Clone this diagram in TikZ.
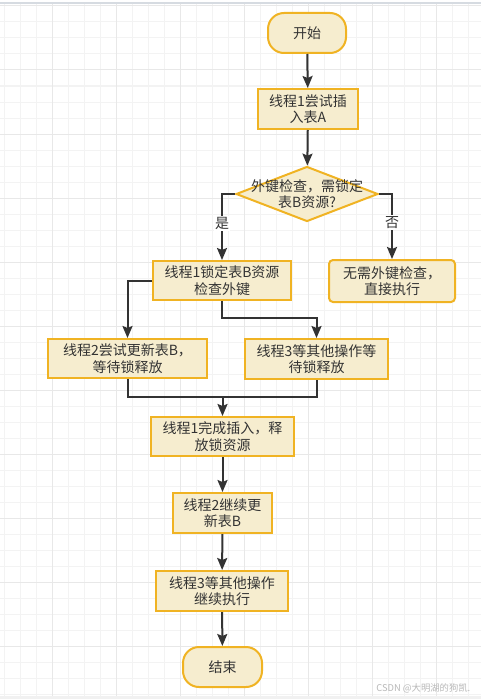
\documentclass[tikz,border=0pt]{standalone}
\usepackage{fontspec}
\usetikzlibrary{arrows.meta, shapes.geometric}
\newfontfamily\cjk{Noto Sans CJK SC}
\definecolor{boxfill}{HTML}{F6EDCF}
\definecolor{boxline}{HTML}{F0B323}
\definecolor{ink}{HTML}{333333}
\definecolor{gridminor}{HTML}{F3F3F3}
\definecolor{gridmajor}{HTML}{E8E8E8}
\definecolor{frameline}{HTML}{D6DBE1}

\begin{document}
\begin{tikzpicture}[x=0.75pt, y=-0.75pt,
  every node/.style={font=\cjk\fontsize{10.5}{12.5}\selectfont, text=ink, align=center},
  process/.style={draw=boxline, fill=boxfill, line width=1.5pt, inner sep=0pt},
  terminal/.style={process, rounded corners=12pt},
  decision/.style={process, diamond, minimum width=106.5pt, minimum height=41.25pt},
  flow/.style={draw=ink, line width=1.5pt, -{Stealth[length=9pt, width=7.5pt, inset=1.5pt]}},
  link/.style={draw=ink, line width=1.5pt},
  answer/.style={fill=white, inner sep=1pt}]
\useasboundingbox (0,0) rectangle (481,699);
% Background grid
\fill[white] (0,0) rectangle (481,699);
\foreach \x in {4,20,...,480} \draw[gridminor, line width=0.75pt] (\x,4) -- (\x,696);
\foreach \y in {6,22,...,695} \draw[gridminor, line width=0.75pt] (0,\y) -- (481,\y);
\foreach \x in {52,116,...,480} \draw[gridmajor, line width=0.75pt] (\x,4) -- (\x,696);
\foreach \y in {6,70,...,695} \draw[gridmajor, line width=0.75pt] (0,\y) -- (481,\y);
\draw[frameline, line width=1pt] (0,3) -- (481,3);
\fill[gridmajor!80!black!20] (0,696) rectangle (481,699);
% Nodes
\node[terminal, minimum width=58.5pt, minimum height=30pt] (start) at (307,33) {开始};
\node[process, minimum width=75pt, minimum height=30pt] (insert) at (308,109) {线程1尝试插\\入表A};
\node[decision, label={center:外键检查，需锁定\\表B资源?}] (check) at (307,194) {};
\node[process, minimum width=103.5pt, minimum height=29.25pt] (lock) at (222,280.5) {线程1锁定表B资源\\检查外键};
\node[process, rounded corners=3pt, minimum width=94.5pt, minimum height=31.5pt] (nofk) at (392,281) {无需外键检查，\\直接执行};
\node[process, minimum width=119.25pt, minimum height=29.25pt] (t2wait) at (127.5,358.5) {线程2尝试更新表B，\\等待锁释放};
\node[process, minimum width=107.25pt, minimum height=30pt] (t3wait) at (316.5,359) {线程3等其他操作等\\待锁释放};
\node[process, minimum width=107.25pt, minimum height=29.25pt] (release) at (222.5,436.5) {线程1完成插入，释\\放锁资源};
\node[process, minimum width=74.25pt, minimum height=30pt] (t2go) at (222.5,513) {线程2继续更\\新表B};
\node[process, minimum width=99pt, minimum height=30pt] (t3go) at (222,591) {线程3等其他操作\\继续执行};
\node[terminal, minimum width=59.25pt, minimum height=30pt] (stop) at (222.5,667) {结束};
\coordinate (merge) at (222.5,397);
% Connectors
\draw[flow] (start) -- (insert);
\draw[flow] (insert) -- (check);
\draw[flow] (check.west) -| (lock.north) node[answer, pos=0.72] {是};
\draw[flow] (check.east) -| (nofk.north) node[answer, pos=0.72] {否};
\draw[flow] (lock.west) -| (t2wait.north);
\draw[flow] (lock.south) |- ([yshift=15pt]t3wait.north) -- (t3wait.north);
\draw[link] (t2wait.south) |- (merge) -| (t3wait.south);
\draw[flow] (merge) -- (release);
\draw[flow] (release) -- (t2go);
\draw[flow] (t2go) -- (t3go);
\draw[flow] (t3go) -- (stop);
% Watermark
\node[font=\cjk\fontsize{7}{8}\selectfont, text=black!28, anchor=east] (mark) at (475,688) {CSDN @大明湖的狗凯.};
\end{tikzpicture}
\end{document}
